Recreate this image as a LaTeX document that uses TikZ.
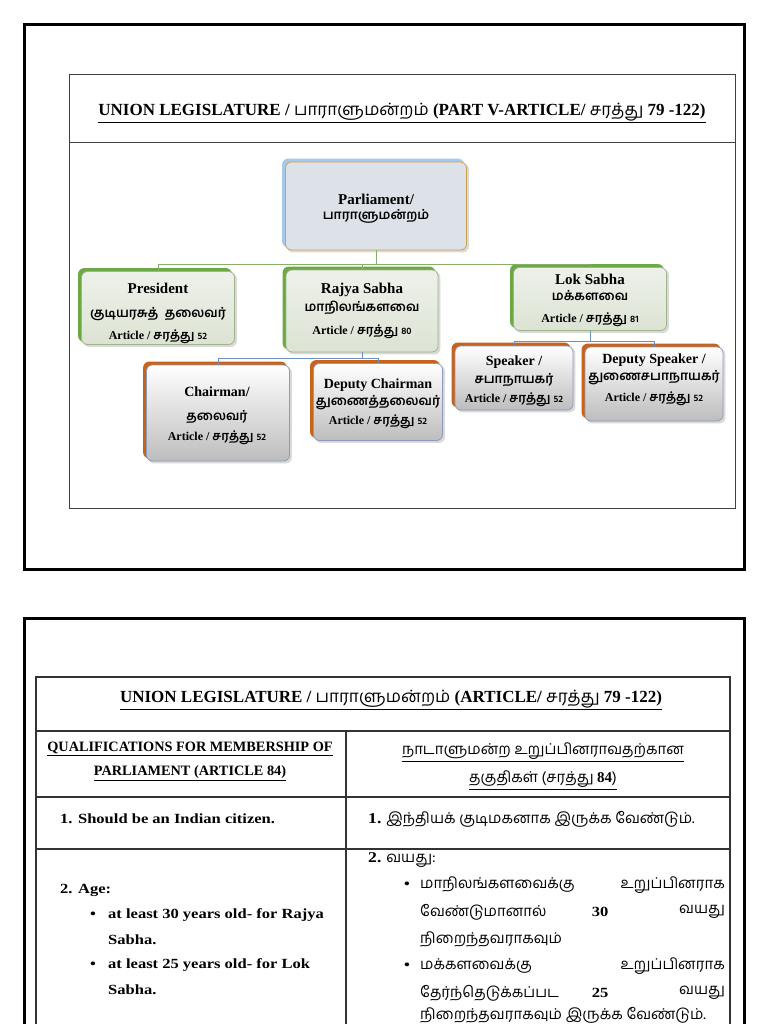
\documentclass[tikz,border=0pt]{standalone}
\usepackage{fontspec}
\setmainfont{Liberation Serif}
\newfontfamily\tamil[Script=Tamil]{Hind Madurai}
\newfontfamily\tabfont[FakeStretch=1.18]{Liberation Serif}
\pgfdeclarelayer{bg}
\pgfsetlayers{bg,main}
\definecolor{gedge}{HTML}{6CA844}
\definecolor{gborder}{HTML}{9DB58A}
\definecolor{gtop}{HTML}{EEF1EA}
\definecolor{gbot}{HTML}{DCE3D3}
\definecolor{oedge}{HTML}{C8631C}
\definecolor{oborder}{HTML}{8A9BBD}
\definecolor{obot}{HTML}{BDBDBD}
\definecolor{pfill}{HTML}{DDE1E8}
\definecolor{pborder}{HTML}{C9A450}
\definecolor{pedge}{HTML}{A6C8EA}
\definecolor{glinec}{HTML}{86B06A}
\definecolor{blinec}{HTML}{6F8FC3}
\newcommand\artlbl[1]{{\bfseries\fontsize{12}{13}\selectfont Article / }{\tamil\bfseries\fontsize{12.5}{13}\selectfont சரத்து }{\tamil\bfseries\fontsize{9.5}{10}\selectfont #1}}
\newcommand\boxshadow[2]{%
  \begin{pgfonlayer}{bg}
  \fill[black!15,rounded corners=6pt] ([shift={(2,2)}]#1.north west) rectangle ([shift={(2,2)}]#1.south east);
  \fill[#2,rounded corners=6pt] ([shift={(-3,-3)}]#1.north west) rectangle ([shift={(-3,-3)}]#1.south east);
  \end{pgfonlayer}}
\begin{document}
\begin{tikzpicture}[x=1pt,y=-1pt,
  frame/.style={draw=black,line width=3pt},
  thin/.style={draw=black!75,line width=1pt},
  tline/.style={draw=black!80,line width=1.2pt},
  gline/.style={draw=glinec,line width=1pt},
  bline/.style={draw=blinec,line width=1pt},
  box/.style={rounded corners=6pt,line width=0.8pt,inner sep=0pt},
  gbox/.style={box,draw=gborder,top color=gtop,bottom color=gbot},
  obox/.style={box,draw=oborder,top color=white,bottom color=obot},
  pbox/.style={box,draw=pborder,fill=pfill},
  txt/.style={inner sep=0pt},
  big/.style={txt,font=\bfseries\fontsize{15}{17}\selectfont},
  mid/.style={txt,font=\bfseries\fontsize{14}{16}\selectfont},
  tam/.style={txt,font=\tamil\bfseries\fontsize{13}{15}\selectfont},
  ttam/.style={txt,font=\tamil\fontsize{15}{17}\selectfont},
  body/.style={txt,font=\tabfont\bfseries\fontsize{14}{16}\selectfont},
  caps/.style={txt,font=\bfseries\fontsize{14.3}{16}\selectfont},
]
\clip (0,0) rectangle (768,1024);
\begin{pgfonlayer}{bg}
\fill[white] (0,0) rectangle (768,1024);
\end{pgfonlayer}

% ---------- page 1 ----------
\draw[frame] (24,25) rectangle (744,569);
\draw[thin] (69,75) rectangle (735,508);
\draw[thin] (69,143) -- (735,143);
\node[txt,font=\bfseries\fontsize{17}{19}\selectfont] (title1) at (402,113)
  {\underline{UNION LEGISLATURE / {\tamil\mdseries பாராளுமன்றம்} (PART V-ARTICLE/ {\tamil\mdseries சரத்து} 79 -122)}};

% boxes
\node[pbox,minimum width=181,minimum height=88] (parl) at (376,206) {};
\boxshadow{parl}{pedge}
\node[gbox,minimum width=153,minimum height=73] (pres) at (158,308) {};
\boxshadow{pres}{gedge}
\node[gbox,minimum width=152,minimum height=82] (rajya) at (362,311) {};
\boxshadow{rajya}{gedge}
\node[gbox,minimum width=153,minimum height=63] (lok) at (590,299) {};
\boxshadow{lok}{gedge}
\node[obox,minimum width=143,minimum height=96] (chair) at (218,413) {};
\boxshadow{chair}{oedge}
\node[obox,minimum width=129,minimum height=77] (dchair) at (378,402) {};
\boxshadow{dchair}{oedge}
\node[obox,minimum width=118,minimum height=64] (spk) at (514,378) {};
\boxshadow{spk}{oedge}
\node[obox,minimum width=138,minimum height=74] (dspk) at (654,384) {};
\boxshadow{dspk}{oedge}

% connectors
\draw[gline] (parl.south) -- ++(0,14) coordinate (pj);
\draw[gline] (pres.north) |- (pj);
\draw[gline] (pj) -| (lok.north);
\draw[gline] (rajya.north) |- (pj);
\draw[bline] (rajya.south) -- ++(0,6) coordinate (rj);
\draw[bline] (rj) -| (chair.north);
\draw[bline] (rj) -| (dchair.north);
\draw[bline] (lok.south) -- ++(0,11) coordinate (lj);
\draw[bline] (lj) -| (spk.north);
\draw[bline] (lj) -| (dspk.north);

% box texts
\node[big] (parl1) at (376,199) {Parliament/};
\node[tam] (parl2) at (376,216) {பாராளுமன்றம்};
\node[big] (pres1) at (158,288) {President};
\node[tam] (pres2) at (158,314) {குடியரசுத்\ \ தலைவர்};
\node[txt] (pres3) at (158,337) {\artlbl{52}};
\node[big] (rajya1) at (362,290) {Rajya Sabha};
\node[tam] (rajya2) at (362,308) {மாநிலங்களவை};
\node[txt] (rajya3) at (362,332) {\artlbl{80}};
\node[big] (lok1) at (590,279) {Lok Sabha};
\node[tam] (lok2) at (590,296) {மக்களவை};
\node[txt] (lok3) at (590,320) {\artlbl{81}};
\node[mid] (chair1) at (217,392) {Chairman/};
\node[tam] (chair2) at (217,417) {தலைவர்};
\node[txt] (chair3) at (217,438) {\artlbl{52}};
\node[mid] (dchair1) at (378,385) {Deputy Chairman};
\node[tam] (dchair2) at (378,403) {துணைத்தலைவர்};
\node[txt] (dchair3) at (378,422) {\artlbl{52}};
\node[mid] (spk1) at (514,362) {Speaker /};
\node[tam] (spk2) at (514,380) {சபாநாயகர்};
\node[txt] (spk3) at (514,400) {\artlbl{52}};
\node[mid] (dspk1) at (654,360) {Deputy Speaker /};
\node[tam] (dspk2) at (654,378) {துணைசபாநாயகர்};
\node[txt] (dspk3) at (654,399) {\artlbl{52}};

% ---------- page 2 ----------
\draw[frame] (24,618) rectangle (744,1060);
\draw[tline] (36,677) rectangle (730,1060);
\draw[tline] (36,731) -- (730,731);
\draw[tline] (36,797) -- (730,797);
\draw[tline] (36,849) -- (730,849);
\draw[tline] (346,731) -- (346,1060);

\node[txt,font=\bfseries\fontsize{17}{19}\selectfont] (title2) at (391,700)
  {\underline{UNION LEGISLATURE / {\tamil\mdseries பாராளுமன்றம்} (ARTICLE/ {\tamil\mdseries சரத்து} 79 -122)}};
\node[caps] (qh1) at (190,749) {\underline{QUALIFICATIONS FOR MEMBERSHIP OF}};
\node[caps] (qh2) at (190,773) {\underline{PARLIAMENT (ARTICLE 84)}};
\node[ttam] (th1) at (543,752) {\underline{நாடாளுமன்ற உறுப்பினராவதற்கான}};
\node[ttam] (th2) at (543,780) {\underline{தகுதிகள் (சரத்து {\bfseries\rmfamily 84})}};

\node[body,anchor=west] (r1l) at (60,819) {1. Should be an Indian citizen.};
\node[ttam,anchor=west] (r1r) at (368,819) {{\tabfont\bfseries 1.} இந்தியக் குடிமகனாக இருக்க வேண்டும்.};

\node[body,anchor=west] (ageh) at (60,890) {2. Age:};
\node[body] (ab1) at (93,915) {•};
\node[body,anchor=west] (a1) at (108,915) {at least 30 years old- for Rajya};
\node[body,anchor=west] (a1b) at (108,940) {Sabha.};
\node[body] (ab2) at (93,965) {•};
\node[body,anchor=west] (a2) at (108,965) {at least 25 years old- for Lok};
\node[body,anchor=west] (a2b) at (108,990) {Sabha.};

\node[ttam,anchor=west] (vh) at (368,860) {{\tabfont\bfseries 2.} வயது:};
\node[body] (vb1) at (407,885) {•};
\node[ttam,anchor=west] (v1a) at (420,885) {மாநிலங்களவைக்கு};
\node[ttam,anchor=east] (v1b) at (725,885) {உறுப்பினராக};
\node[ttam,anchor=west] (v2a) at (420,912) {வேண்டுமானால்};
\node[body] (v2b) at (600,912) {30};
\node[ttam,anchor=east] (v2c) at (725,912) {வயது};
\node[ttam,anchor=west] (v3) at (420,939) {நிறைந்தவராகவும்};
\node[body] (vb2) at (407,966) {•};
\node[ttam,anchor=west] (v4a) at (420,966) {மக்களவைக்கு};
\node[ttam,anchor=east] (v4b) at (725,966) {உறுப்பினராக};
\node[ttam,anchor=west] (v5a) at (420,993) {தேர்ந்தெடுக்கப்பட};
\node[body] (v5b) at (600,993) {25};
\node[ttam,anchor=east] (v5c) at (725,993) {வயது};
\node[ttam,anchor=west] (v6) at (420,1015) {நிறைந்தவராகவும் இருக்க வேண்டும்.};
\end{tikzpicture}
\end{document}
